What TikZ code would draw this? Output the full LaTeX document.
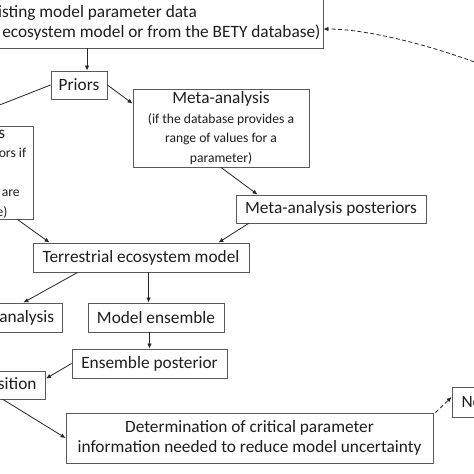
\documentclass[tikz,border=0pt]{standalone}
\usepackage{fontspec}
\setmainfont{Carlito}
\usetikzlibrary{arrows.meta,calc}
\definecolor{boxc}{HTML}{5A5A5A}
\definecolor{txt}{HTML}{1E1E1E}
\definecolor{lin}{HTML}{262626}
\newcommand{\subf}{\fontsize{13.6}{16.5}\selectfont}
\begin{document}
\begin{tikzpicture}[x=1pt,y=-1pt,
  box/.style={draw=boxc, line width=0.9pt, text=txt, inner sep=0pt, align=center,
              font=\fontsize{17.3}{19.5}\selectfont},
  arr/.style={draw=lin, line width=0.8pt, -{Latex[length=5pt,width=4.5pt]}},
  darr/.style={arr, dash pattern=on 4pt off 2.5pt}]
\useasboundingbox (0,0) rectangle (474,474);
\clip (0,0) rectangle (474,474);
\fill[white] (0,0) rectangle (474,474);

\node[box, minimum width=467, minimum height=50] (top) at (89.5,23)
  {Existing model parameter data\\(from the terrestrial ecosystem model or from the BETY database)};
\node[box, minimum width=56, minimum height=28] (priors) at (79,85) {Priors};
\node[box, minimum width=176, minimum height=78] (meta) at (221,128)
  {Meta-analysis\\\subf (if the database provides a\\\subf range of values for a\\\subf parameter)};
\node[box, minimum width=146, minimum height=93] (lp) at (-40,172.5)
  {Expert priors\\\subf (use the default priors if\\\subf data\\\subf for the parameter are\\\subf not yet available)};
\node[box, minimum width=190, minimum height=28] (map) at (331,209) {Meta-analysis posteriors};
\node[box, minimum width=216, minimum height=29] (terr) at (141,257.5) {Terrestrial ecosystem model};
\node[box, minimum width=146, minimum height=29] (sa) at (-11,317.5) {Sensitivity analysis};
\node[box, minimum width=136, minimum height=29] (me) at (156,317.5) {Model ensemble};
\node[box, minimum width=155, minimum height=29] (ep) at (149.5,363.5) {Ensemble posterior};
\node[box, minimum width=187, minimum height=28] (vd) at (-48,385) {Variance decomposition};
\node[box, minimum width=367, minimum height=50] (det) at (249.5,438)
  {Determination of critical parameter\\information needed to reduce model uncertainty};
\node[box, minimum width=158, minimum height=30] (ne) at (531,402) {New data collection};

\coordinate (pa) at ($(priors.north)+(8,0)$);
\draw[arr] (top.south -| pa) -- (pa);
\draw[arr] (priors.west) -- ($(lp.north)+(-13,0)$);
\draw[arr] (priors.east) -- ($(meta.north west)+(0,15)$);
\draw[arr] (meta.south) -- ($(map.north west)+(22,0)$);
\draw[arr] ($(map.south west)+(13,0)$) -- ($(terr.north east)+(-31,0)$);
\draw[arr] ($(lp.south east)+(-16,0)$) -- ($(terr.north west)+(17,0)$);
\draw[arr] ($(terr.south west)+(45,0)$) -- ($(sa.north east)+(-39,0)$);
\coordinate (tm) at ($(terr.south west)+(116,0)$);
\draw[arr] (tm) -- (tm |- me.north);
\draw[arr] (me.south -| ep.north) -- (ep.north);
\draw[arr] (ep.west) -- ($(vd.north east)+(0,8)$);
\draw[arr] ($(vd.south east)+(-43,0)$) -- (det.west);
\draw[darr] ($(det.north east)+(2,0)$) -- ($(ne.west)+(0,-5)$);
\coordinate (bend) at (560,115);
\draw[darr] (ne.north) .. controls (531,280) and (560,185) .. (bend)
  .. controls (560,85) and (400,29) .. ($(top.east)+(0,6)$);
\end{tikzpicture}
\end{document}
